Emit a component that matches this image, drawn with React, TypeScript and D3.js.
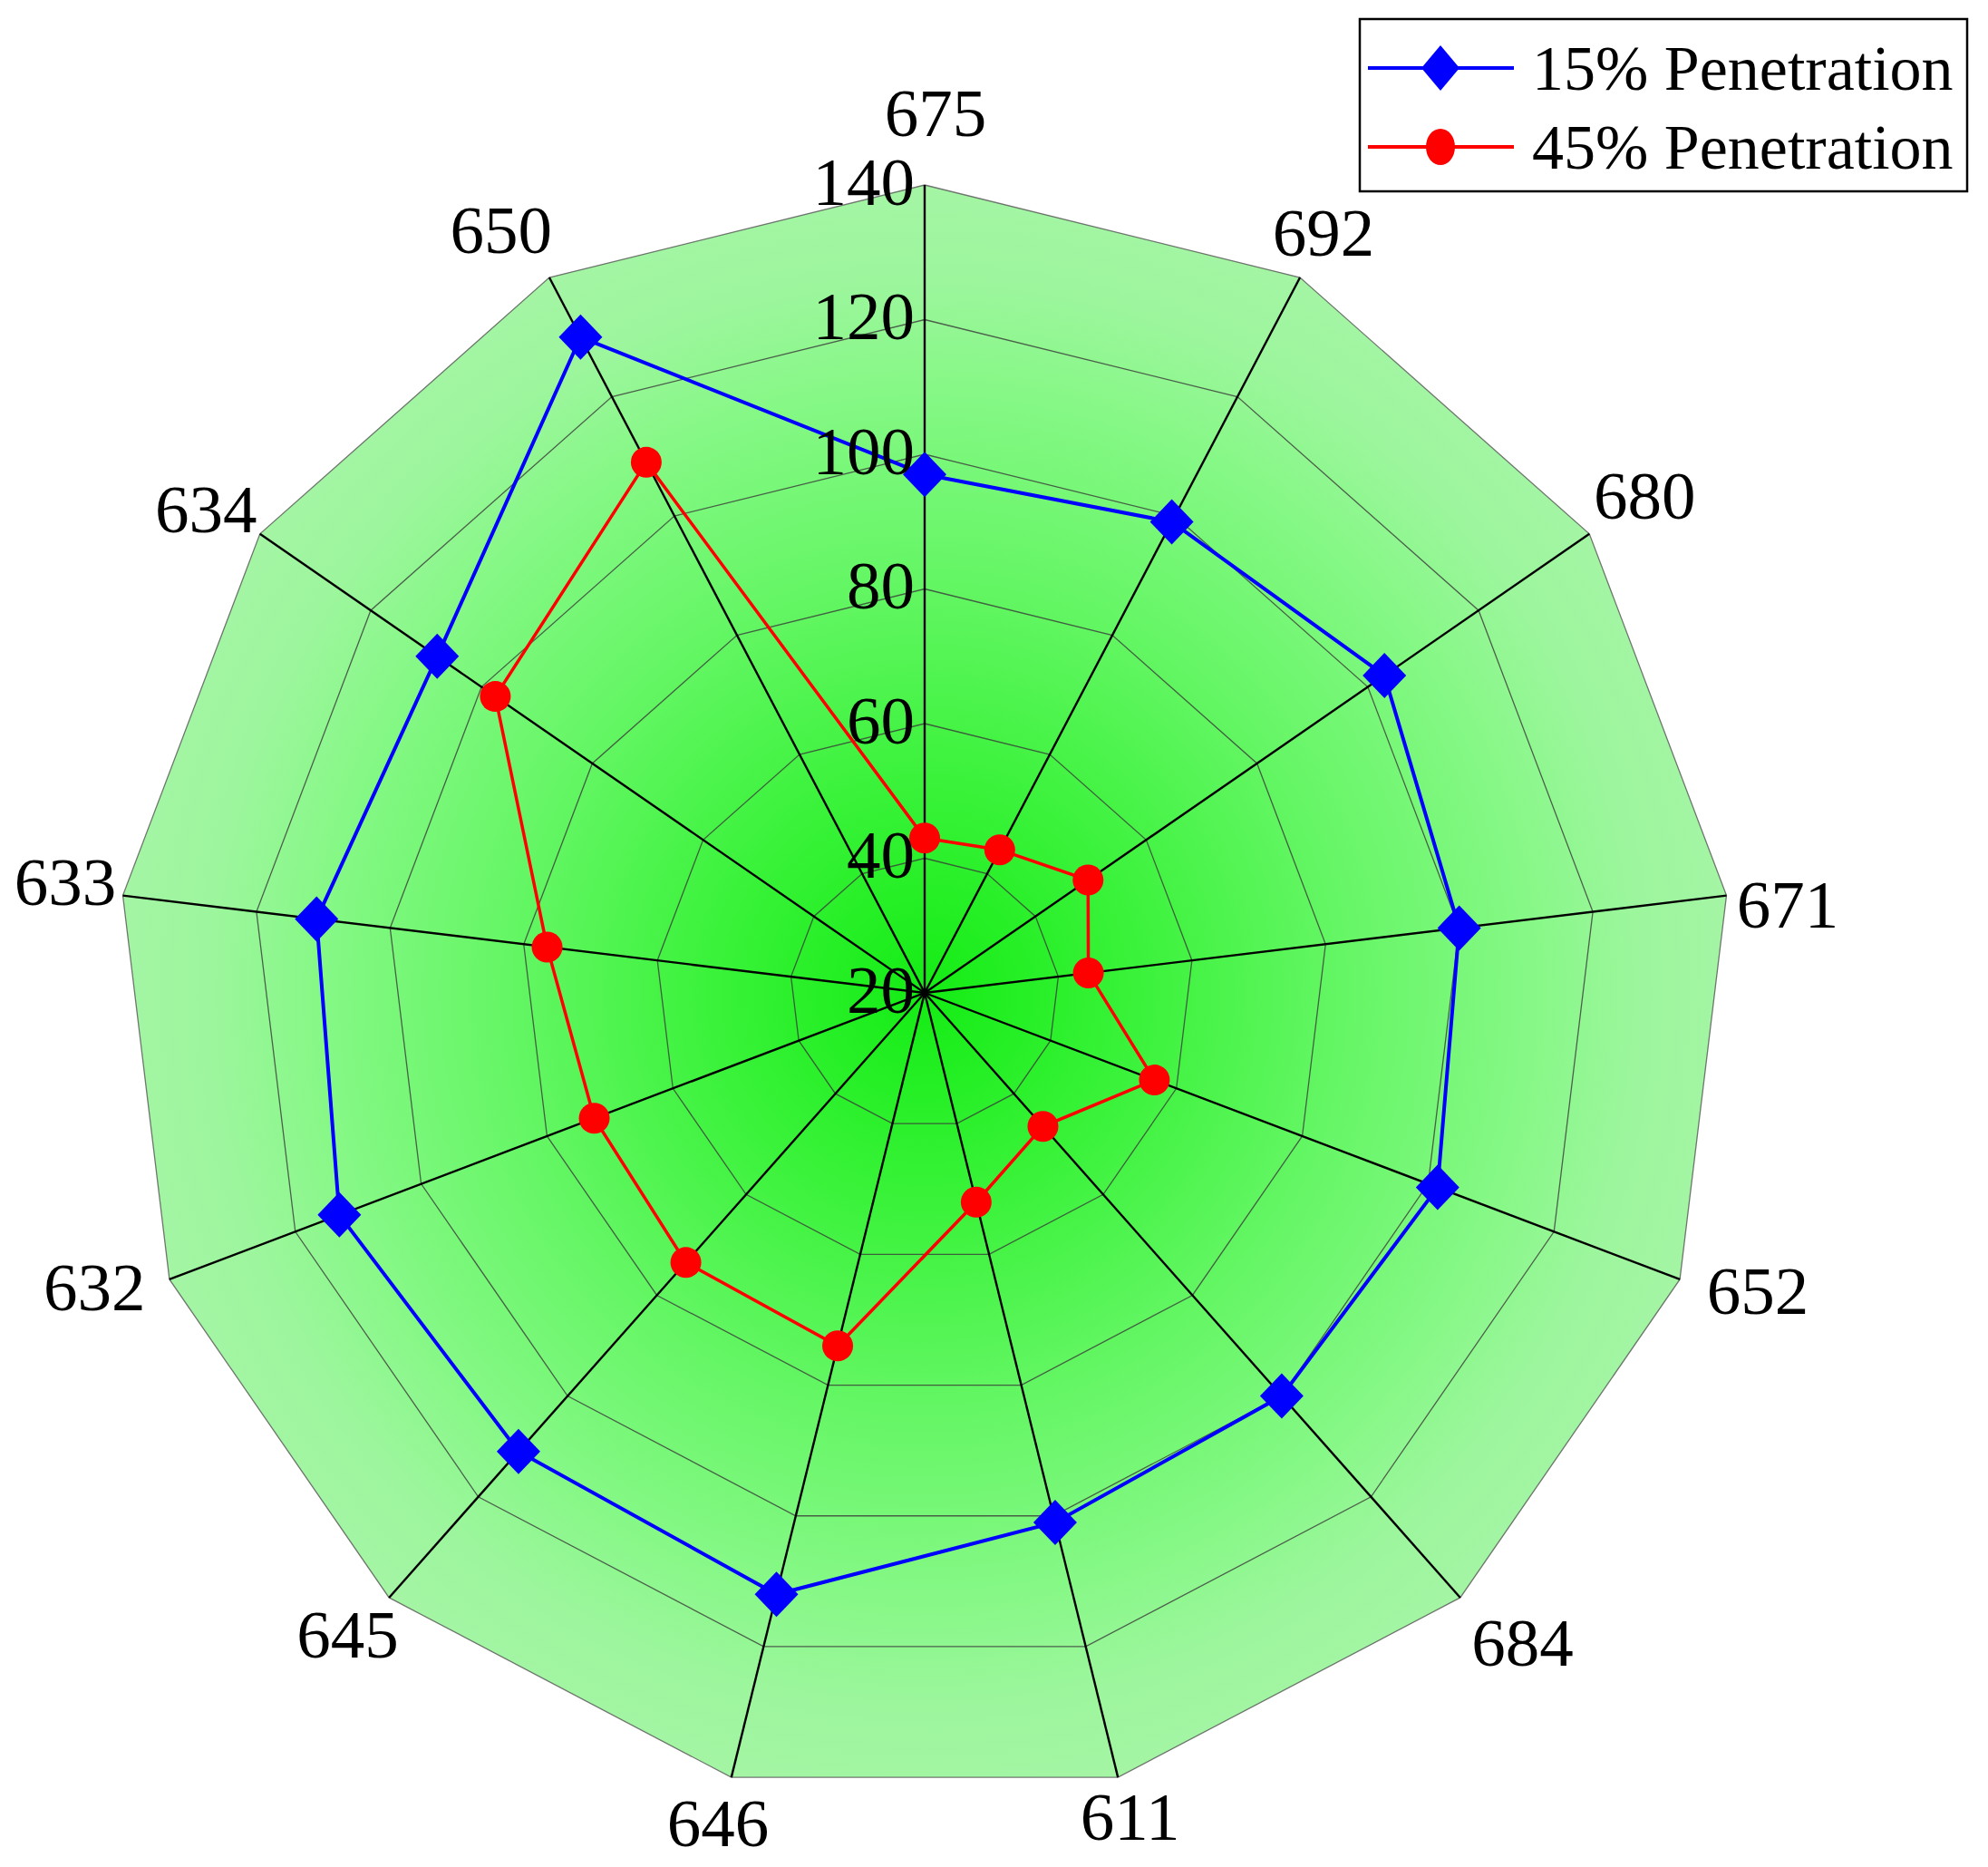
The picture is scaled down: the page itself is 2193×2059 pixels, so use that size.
import React, { useEffect, useRef } from "react";
import * as d3 from "d3";

// axis (node) labels, clockwise from the top
const nodes = ["675", "692", "680", "671", "652", "684", "611", "646", "645", "632", "633", "634", "650"];
const pen15 = [97, 99, 103, 100, 101.5, 100, 101, 112, 111, 113, 111, 108, 130];
const pen45 = [43, 44, 49.5, 44.5, 56.5, 46.5, 52, 74, 73.5, 72.5, 76.5, 97.5, 109];
const ticks = [20, 40, 60, 80, 100, 120, 140];

const W = 2193;
const H = 2059;

// how far each node label sits beyond the outer polygon, plus a small nudge (px)
const labelGap = [80, 56, 74, 73, 92, 99, 56, 62, 69, 83, 64, 59, 67];
const labelNudge: [number, number][] = [
  [12, 0], [0, 0], [0, 0], [-5, 19], [0, -20], [3, -25], [0, -11],
  [0, -10], [0, -11], [-5, -21], [0, -7], [-11, 6], [-22, 7],
];

const App = () => {
  const svgRef = useRef<SVGSVGElement | null>(null);

  useEffect(() => {
    document.body.style.margin = "0";
    if (!svgRef.current) return;
    const svg = d3.select(svgRef.current);
    svg.selectAll("*").remove();

    const cx = 1020;
    const cy = 1095;
    const R = 891;
    const n = nodes.length;
    const font = "'Liberation Serif', 'Times New Roman', serif";

    const r = d3.scaleLinear().domain([20, 140]).range([0, R]);
    const ang = (i: number) => (i * 2 * Math.PI) / n;
    const pt = (i: number, rad: number): [number, number] => [
      Math.sin(ang(i)) * rad,
      -Math.cos(ang(i)) * rad,
    ];

    const defs = svg.append("defs");
    const grad = defs
      .append("radialGradient")
      .attr("id", "bg")
      .attr("gradientUnits", "userSpaceOnUse")
      .attr("cx", 0)
      .attr("cy", 0)
      .attr("r", R);
    [
      [0, "#14ec14"],
      [0.25, "#38f238"],
      [0.5, "#62f662"],
      [0.75, "#86f886"],
      [0.88, "#9cf69c"],
      [1, "#a4f5a4"],
    ].forEach(([o, c]) => grad.append("stop").attr("offset", o as number).attr("stop-color", c as string));

    const g = svg.append("g").attr("transform", `translate(${cx},${cy})`);

    const ring = d3
      .lineRadial<number>()
      .angle((_, i) => ang(i))
      .curve(d3.curveLinearClosed);

    // background polygon
    g.append("path")
      .attr("d", ring.radius(R)(nodes.map(() => 0)))
      .attr("fill", "url(#bg)");

    // grid rings
    g.selectAll(".grid")
      .data(ticks.slice(1))
      .enter()
      .append("path")
      .attr("d", (t) => ring.radius(r(t))(nodes.map(() => 0)))
      .attr("fill", "none")
      .attr("stroke", (t) => (t === 140 ? "#555" : "#3a3a3a"))
      .attr("stroke-opacity", 0.8)
      .attr("stroke-width", 1.3);

    // axes
    g.selectAll(".axis")
      .data(nodes)
      .enter()
      .append("line")
      .attr("x1", 0)
      .attr("y1", 0)
      .attr("x2", (_, i) => pt(i, R)[0])
      .attr("y2", (_, i) => pt(i, R)[1])
      .attr("stroke", "#000")
      .attr("stroke-width", 2.4);

    // node labels
    g.selectAll(".lab")
      .data(nodes)
      .enter()
      .append("text")
      .attr("x", (_, i) => pt(i, R + labelGap[i])[0] + labelNudge[i][0])
      .attr("y", (_, i) => pt(i, R + labelGap[i])[1] + labelNudge[i][1])
      .attr("text-anchor", "middle")
      .attr("dominant-baseline", "central")
      .style("font-family", font)
      .style("font-size", "75px")
      .text((d) => d);

    // series
    const series = [
      { vals: pen15, color: "#0000ff", width: 4 },
      { vals: pen45, color: "#ff0000", width: 3.5 },
    ];
    series.forEach((s) => {
      g.append("path")
        .attr("d", ring.radius((d) => r(d))(s.vals))
        .attr("fill", "none")
        .attr("stroke", s.color)
        .attr("stroke-width", s.width);
    });

    // markers
    g.selectAll(".dia")
      .data(pen15)
      .enter()
      .append("path")
      .attr("transform", (d, i) => `translate(${pt(i, r(d))})`)
      .attr("d", "M0,-25L24,0L0,25L-24,0Z")
      .attr("fill", "#0000ff");

    g.selectAll(".dot")
      .data(pen45)
      .enter()
      .append("circle")
      .attr("cx", (d, i) => pt(i, r(d))[0])
      .attr("cy", (d, i) => pt(i, r(d))[1])
      .attr("r", 17)
      .attr("fill", "#ff0000");

    // tick labels on the top axis
    g.selectAll(".tick")
      .data(ticks)
      .enter()
      .append("text")
      .attr("x", -11)
      .attr("y", (t) => -r(t) - 4)
      .attr("text-anchor", "end")
      .attr("dominant-baseline", "central")
      .style("font-family", font)
      .style("font-size", "75px")
      .text((t) => t);

    // legend
    const lg = svg.append("g");
    lg.append("rect")
      .attr("x", 1500)
      .attr("y", 21)
      .attr("width", 670)
      .attr("height", 190)
      .attr("fill", "#fff")
      .attr("stroke", "#000")
      .attr("stroke-width", 2.5);
    const rows = [
      { label: "15% Penetration", color: "#0000ff", y: 75, shape: "d" },
      { label: "45% Penetration", color: "#ff0000", y: 162, shape: "c" },
    ];
    rows.forEach((row) => {
      lg.append("line")
        .attr("x1", 1509)
        .attr("x2", 1670)
        .attr("y1", row.y)
        .attr("y2", row.y)
        .attr("stroke", row.color)
        .attr("stroke-width", 4);
      if (row.shape === "d") {
        lg.append("path")
          .attr("transform", `translate(1589,${row.y})`)
          .attr("d", "M0,-25L21,0L0,25L-21,0Z")
          .attr("fill", row.color);
      } else {
        lg.append("ellipse")
          .attr("cx", 1589)
          .attr("cy", row.y)
          .attr("rx", 16)
          .attr("ry", 20)
          .attr("fill", row.color);
      }
      lg.append("text")
        .attr("x", 1690)
        .attr("y", row.y)
        .attr("dominant-baseline", "central")
        .style("font-family", font)
        .style("font-size", "70px")
        .text(row.label);
    });
  }, []);

  return <svg ref={svgRef} width={W} height={H} style={{ display: "block", background: "#fff" }} />;
};

export default App;
